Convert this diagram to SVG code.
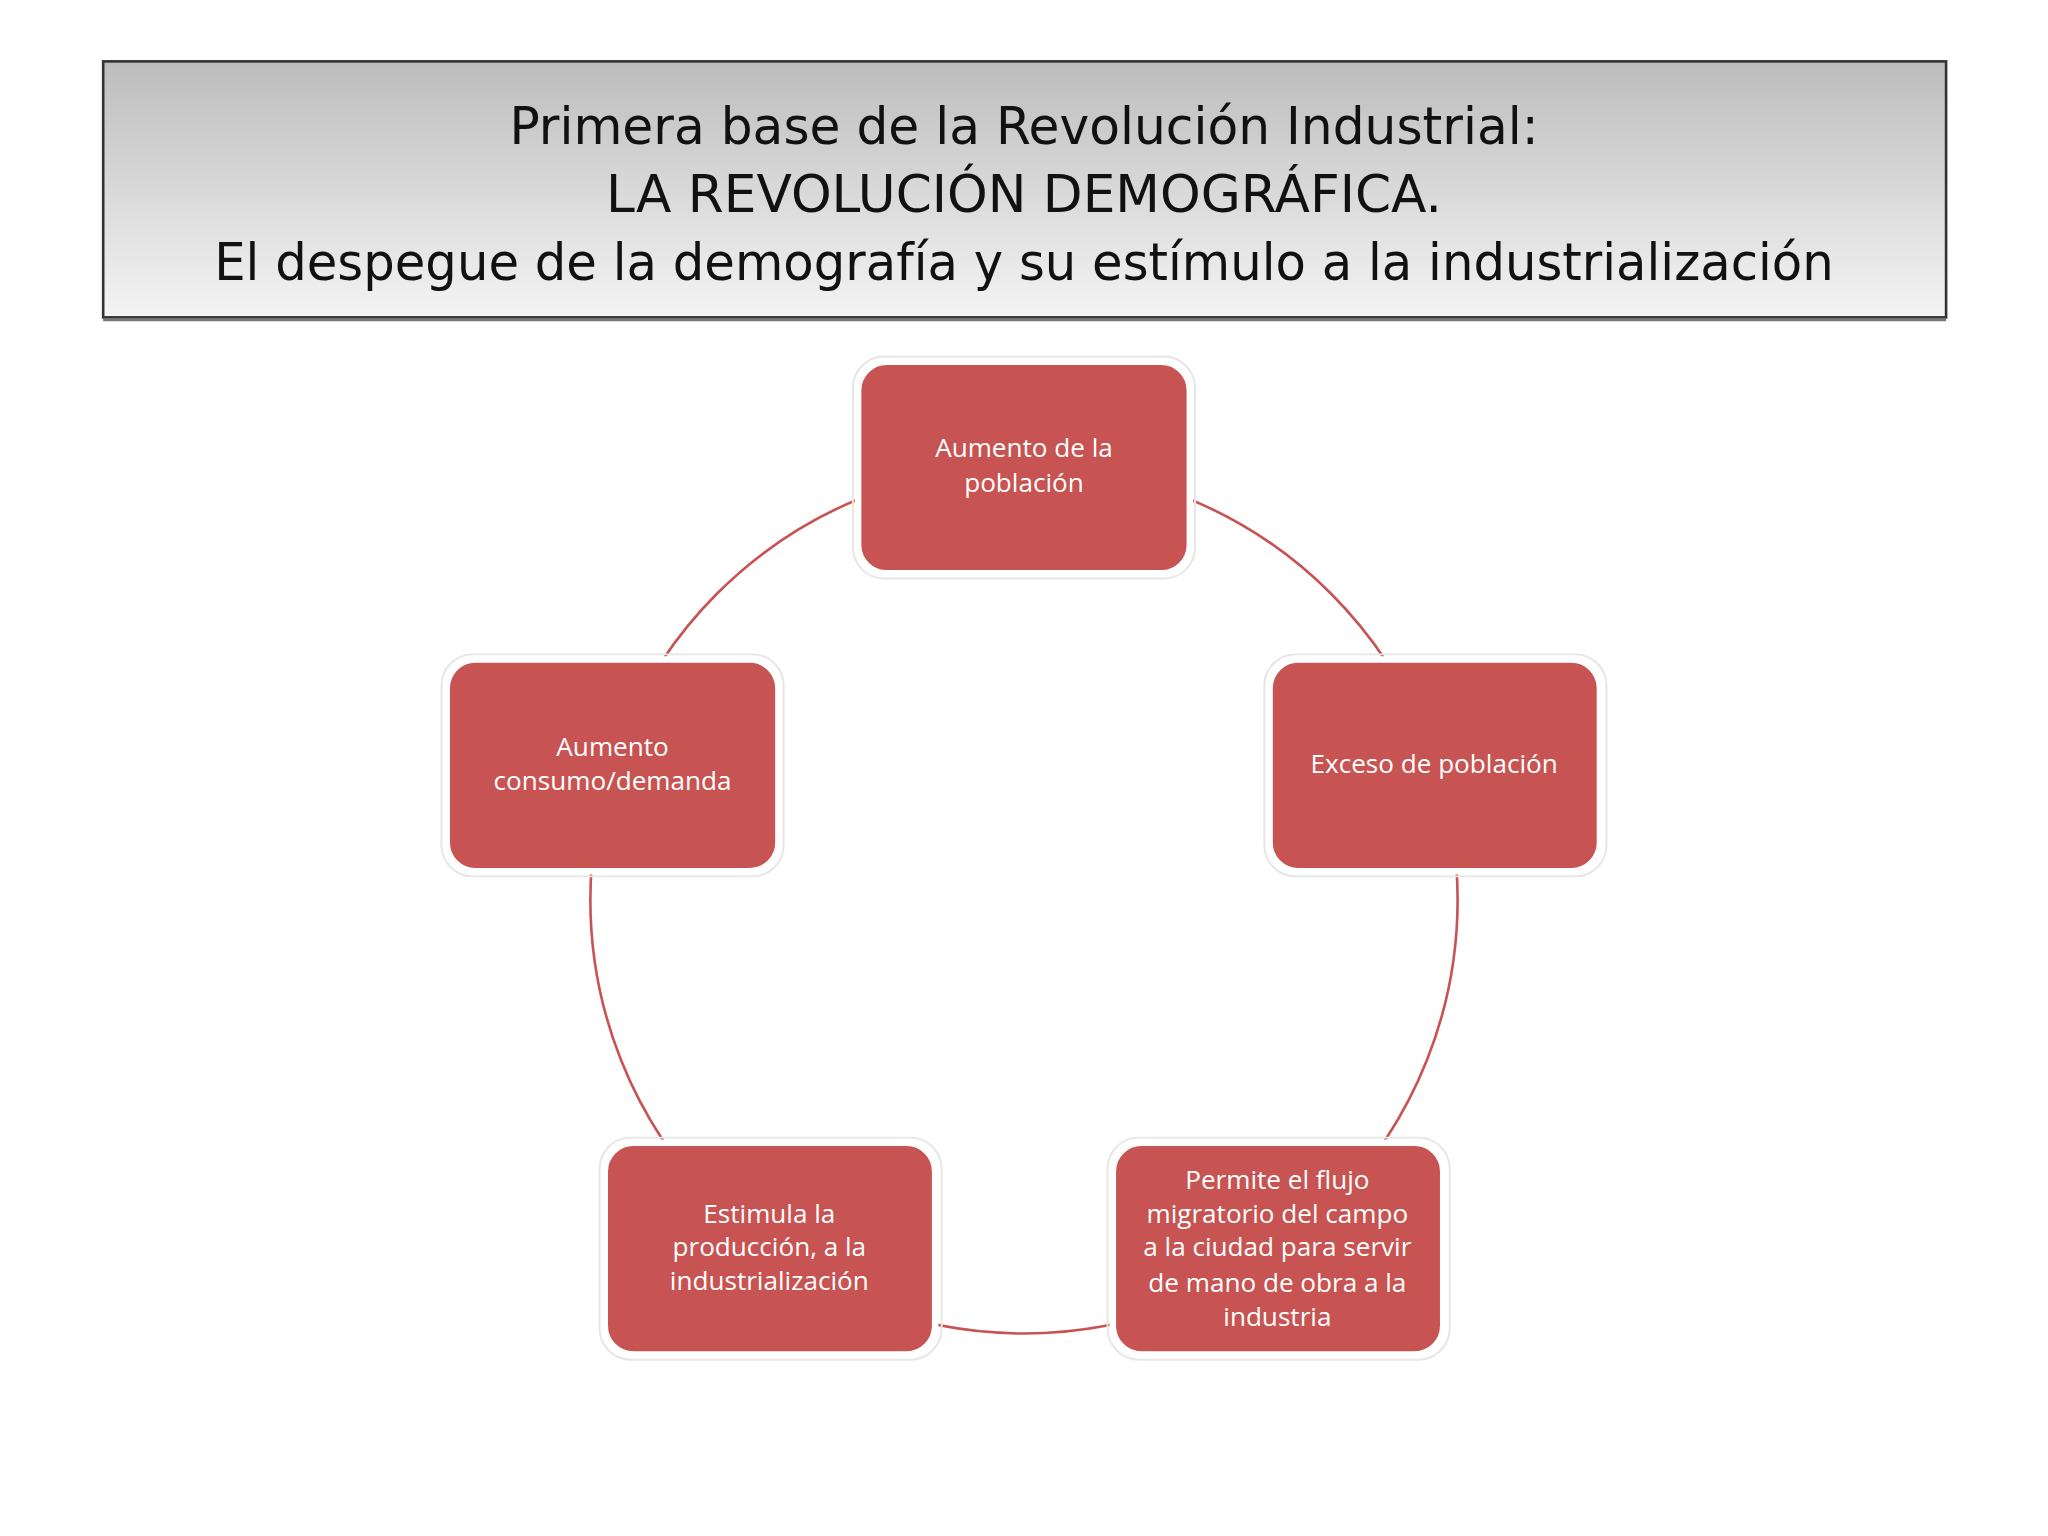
<svg xmlns="http://www.w3.org/2000/svg" width="2048" height="1536" viewBox="0 0 2048 1536">
<defs>
<linearGradient id="hg" x1="0" y1="0" x2="0" y2="1"><stop offset="0" stop-color="#bdbdbd"/><stop offset="1" stop-color="#f4f4f4"/></linearGradient>
<style>
.n{fill:#c75452;stroke:#ffffff;stroke-width:5}
.o{fill:none;stroke:#e6e6e6;stroke-width:1.5}
.t{font-family:"Open Sans","DejaVu Sans",sans-serif;font-size:20px;fill:#ffffff;text-anchor:middle}
.h{font-family:"DejaVu Sans",sans-serif;font-size:40px;fill:#111;text-anchor:middle}
</style>
</defs>
<rect width="2048" height="1536" fill="#ffffff"/>
<g transform="scale(1.3061)">
<g id="header">
<rect x="79" y="47" width="1411" height="196" fill="url(#hg)" stroke="#333" stroke-width="2"/>
<line x1="79" y1="245" x2="1490" y2="245" stroke="#777" stroke-width="2"/>
<text class="h" x="784" y="110" textLength="788" lengthAdjust="spacingAndGlyphs">Primera base de la Revolución Industrial:</text>
<text class="h" x="784" y="162" textLength="640" lengthAdjust="spacingAndGlyphs">LA REVOLUCIÓN DEMOGRÁFICA.</text>
<text class="h" x="784" y="214" textLength="1240" lengthAdjust="spacingAndGlyphs">El despegue de la demografía y su estímulo a la industrialización</text>
</g>
<g id="connectors"><circle cx="784" cy="689" r="332" fill="none" stroke="#c75452" stroke-width="2"/></g>
<g id="n1"><rect class="o" x="653" y="273" width="262" height="170" rx="24"/><rect class="n" x="657" y="277" width="254" height="162" rx="22"/>
<text class="t" x="784" y="350">Aumento de la</text><text class="t" x="784" y="377">población</text></g>
<g id="n2"><rect class="o" x="968" y="501" width="262" height="170" rx="24"/><rect class="n" x="972" y="505" width="253" height="162" rx="22"/>
<text class="t" x="1098" y="592">Exceso de  población</text></g>
<g id="n3"><rect class="o" x="848" y="871" width="262" height="170" rx="24"/><rect class="n" x="852" y="875" width="253" height="162" rx="22"/>
<text class="t" x="978" y="910">Permite el flujo</text><text class="t" x="978" y="936">migratorio del campo</text><text class="t" x="978" y="962">a la ciudad para servir</text><text class="t" x="978" y="989">de mano de obra  a la</text><text class="t" x="978" y="1015">industria</text></g>
<g id="n4"><rect class="o" x="459" y="871" width="262" height="170" rx="24"/><rect class="n" x="463" y="875" width="253" height="162" rx="22"/>
<text class="t" x="589" y="936">Estimula la</text><text class="t" x="589" y="962">producción, a la</text><text class="t" x="589" y="988">industrialización</text></g>
<g id="n5"><rect class="o" x="338" y="501" width="262" height="170" rx="24"/><rect class="n" x="342" y="505" width="254" height="162" rx="22"/>
<text class="t" x="469" y="579">Aumento</text><text class="t" x="469" y="605">consumo/demanda</text></g>
</g>
</svg>
